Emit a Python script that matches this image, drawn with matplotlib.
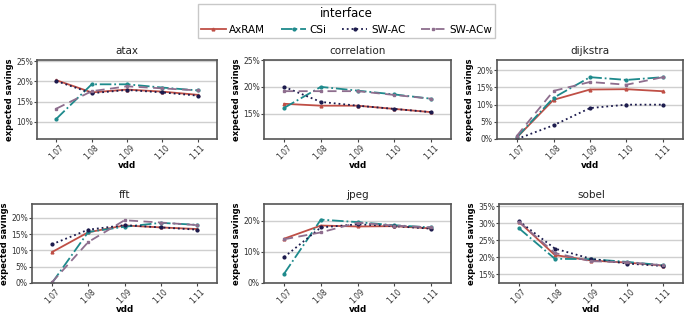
import matplotlib
matplotlib.use("Agg")
import matplotlib.pyplot as plt
from matplotlib.ticker import FuncFormatter, MultipleLocator

vdd = ["1.07", "1.08", "1.09", "1.10", "1.11"]
interfaces = ["AxRAM", "CSi", "SW-AC", "SW-ACw"]
benchmarks = ["atax", "correlation", "dijkstra", "fft", "jpeg", "sobel"]

# expected savings (%) per benchmark, per interface
atax = {
    "AxRAM": [20.3, 17.3, 18.0, 17.5, 16.7],
    "CSi": [10.8, 19.3, 19.3, 18.5, 17.8],
    "SW-AC": [20.1, 17.1, 17.9, 17.3, 16.5],
    "SW-ACw": [13.3, 17.6, 18.8, 18.3, 17.8],
}
correlation = {
    "AxRAM": [16.85, 16.5, 16.5, 15.9, 15.3],
    "CSi": [16.1, 20.0, 19.3, 18.6, 17.8],
    "SW-AC": [20.0, 17.2, 16.5, 15.9, 15.3],
    "SW-ACw": [19.2, 19.2, 19.2, 18.5, 17.8],
}
dijkstra = {
    "AxRAM": [0.5, 11.4, 14.4, 14.5, 13.9],
    "CSi": [0.6, 12.0, 18.0, 17.2, 18.0],
    "SW-AC": [0.0, 4.0, 9.0, 10.0, 10.0],
    "SW-ACw": [1.0, 14.0, 16.6, 15.8, 18.0],
}
fft = {
    "AxRAM": [9.5, 15.6, 17.7, 17.1, 16.6],
    "CSi": [0.0, 15.7, 17.3, 18.5, 17.9],
    "SW-AC": [11.9, 16.4, 17.8, 17.1, 16.4],
    "SW-ACw": [0.2, 12.6, 19.3, 18.6, 17.8],
}
jpeg = {
    "AxRAM": [14.2, 18.4, 18.1, 18.2, 17.5],
    "CSi": [3.0, 20.3, 19.5, 18.5, 17.8],
    "SW-AC": [8.3, 17.8, 18.8, 18.2, 17.4],
    "SW-ACw": [14.0, 16.2, 19.3, 18.4, 17.8],
}
sobel = {
    "AxRAM": [30.5, 20.7, 19.1, 18.5, 17.6],
    "CSi": [28.6, 19.6, 19.5, 18.7, 17.7],
    "SW-AC": [30.7, 22.6, 19.6, 18.2, 17.5],
    "SW-ACw": [30.5, 21.3, 18.9, 18.6, 17.7],
}
data = {"atax": atax, "correlation": correlation, "dijkstra": dijkstra,
        "fft": fft, "jpeg": jpeg, "sobel": sobel}

styles = {
    "AxRAM": dict(color="#bf4f46", linestyle="-", marker="^"),
    "CSi": dict(color="#1e8a8c", linestyle="-.", marker="o"),
    "SW-AC": dict(color="#1c1b4d", linestyle=":", marker="o"),
    "SW-ACw": dict(color="#8e6e8e", linestyle=(0, (5, 3)), marker="s"),
}

W, H = 685, 313
# axes boxes in pixels: left, right, top, bottom
boxes = {
    "atax": (37, 217, 60, 139),
    "correlation": (264, 451, 60, 139),
    "dijkstra": (497, 683, 60, 139),
    "fft": (32, 217, 204, 283),
    "jpeg": (264, 451, 204, 283),
    "sobel": (499, 683, 204, 283),
}
steps = {"atax": 5, "correlation": 5, "dijkstra": 5, "fft": 5, "jpeg": 10, "sobel": 5}

fig = plt.figure(figsize=(W / 100, H / 100), dpi=100)
pct = FuncFormatter(lambda v, p: f"{v:.0f}%")

for name in benchmarks:
    l, r, t, b = boxes[name]
    ax = fig.add_axes([l / W, 1 - b / H, (r - l) / W, (b - t) / H])
    lo, hi = 100, 0
    for itf in interfaces:
        vals = data[name][itf]
        lo, hi = min(lo, min(vals)), max(hi, max(vals))
        ax.plot(vdd, vals, label=itf, linewidth=1.3, markersize=2, **styles[itf])
    ax.set_ylim(max(0, lo - 5), hi + 5)
    ax.yaxis.set_major_locator(MultipleLocator(steps[name]))
    ax.yaxis.set_major_formatter(pct)
    ax.set_xlim(-0.55, 4.55)
    ax.grid(axis="y", color="#cfcfcf", linewidth=1)
    ax.set_axisbelow(True)
    for s in ax.spines.values():
        s.set_color("#555555")
        s.set_linewidth(1.2)
    ax.tick_params(axis="both", labelsize=5.5, length=2, width=0.8,
                   colors="#444444", labelcolor="#333333", pad=1)
    ax.tick_params(axis="x", rotation=45)
    ax.set_title(name, fontsize=7.5, color="#222222", pad=4)
    ax.set_xlabel("vdd", fontsize=6.3, fontweight="bold", labelpad=-0.5)
    ax.set_ylabel("expected savings", fontsize=6, fontweight="bold", labelpad=1.5)

handles, labels = ax.get_legend_handles_labels()
leg = fig.legend(handles, labels, loc="upper center", bbox_to_anchor=(0.506, 1.003),
                 ncol=4, title="interface", fontsize=7.5, title_fontsize=8.5,
                 frameon=True, handlelength=2.4, columnspacing=1.5,
                 borderpad=0.25, handletextpad=0.35, fancybox=False)
leg.get_frame().set_edgecolor("#bbbbbb")

fig.savefig("out.png", dpi=100)
